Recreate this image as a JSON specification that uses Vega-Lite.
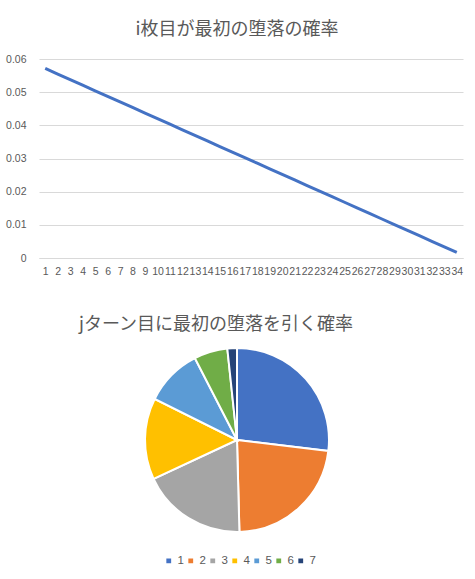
{
  "$schema": "https://vega.github.io/schema/vega-lite/v6.json",
  "background": "white",
  "padding": {"left": 5, "top": 21, "right": 13, "bottom": 12},
  "config": {
    "view": {"stroke": null},
    "font": "Noto Sans CJK JP",
    "title": {"fontSize": 18, "fontWeight": "normal", "color": "#595959", "font": "Noto Sans CJK JP"},
    "axis": {"labelColor": "#595959", "labelFont": "Liberation Sans", "labelFontSize": 10.5, "ticks": false, "title": null}
  },
  "datasets": {
    "line": [
      {"i": 1, "p": 0.05714}, {"i": 2, "p": 0.05546}, {"i": 3, "p": 0.05378}, {"i": 4, "p": 0.05210},
      {"i": 5, "p": 0.05042}, {"i": 6, "p": 0.04874}, {"i": 7, "p": 0.04706}, {"i": 8, "p": 0.04538},
      {"i": 9, "p": 0.04370}, {"i": 10, "p": 0.04202}, {"i": 11, "p": 0.04034}, {"i": 12, "p": 0.03866},
      {"i": 13, "p": 0.03697}, {"i": 14, "p": 0.03529}, {"i": 15, "p": 0.03361}, {"i": 16, "p": 0.03193},
      {"i": 17, "p": 0.03025}, {"i": 18, "p": 0.02857}, {"i": 19, "p": 0.02689}, {"i": 20, "p": 0.02521},
      {"i": 21, "p": 0.02353}, {"i": 22, "p": 0.02185}, {"i": 23, "p": 0.02017}, {"i": 24, "p": 0.01849},
      {"i": 25, "p": 0.01681}, {"i": 26, "p": 0.01513}, {"i": 27, "p": 0.01345}, {"i": 28, "p": 0.01176},
      {"i": 29, "p": 0.01008}, {"i": 30, "p": 0.00840}, {"i": 31, "p": 0.00672}, {"i": 32, "p": 0.00504},
      {"i": 33, "p": 0.00336}, {"i": 34, "p": 0.00168}
    ],
    "pie": [
      {"j": 1, "p": 0.2689}, {"j": 2, "p": 0.2269}, {"j": 3, "p": 0.1849}, {"j": 4, "p": 0.1429},
      {"j": 5, "p": 0.1008}, {"j": 6, "p": 0.0588}, {"j": 7, "p": 0.0168}
    ]
  },
  "bounds": "flush",
  "spacing": 90,
  "vconcat": [
    {
      "title": {"text": "i枚目が最初の堕落の確率", "dx": -14, "offset": 15},
      "width": 424,
      "height": 199,
      "data": {"name": "line"},
      "mark": {"type": "line", "color": "#4472C4", "strokeWidth": 3},
      "encoding": {
        "x": {
          "field": "i", "type": "ordinal",
          "scale": {"type": "point", "padding": 0.5},
          "axis": {"labelAngle": 0, "labelOverlap": false, "domainColor": "#d9d9d9", "labelPadding": 8}
        },
        "y": {
          "field": "p", "type": "quantitative",
          "scale": {"domain": [0, 0.06]},
          "axis": {"values": [0, 0.01, 0.02, 0.03, 0.04, 0.05, 0.06], "format": "~g", "domain": false, "gridColor": "#d9d9d9", "labelPadding": 13}
        }
      }
    },
    {
      "title": {"text": "jターン目に最初の堕落を引く確率", "dx": -21, "offset": 10},
      "width": 396,
      "height": 184,
      "data": {"name": "pie"},
      "mark": {"type": "arc", "outerRadius": 92, "stroke": "white", "strokeWidth": 2},
      "encoding": {
        "theta": {"field": "p", "type": "quantitative", "stack": true},
        "order": {"field": "j", "type": "quantitative", "sort": "ascending"},
        "color": {
          "field": "j", "type": "nominal",
          "scale": {"range": ["#4472C4", "#ED7D31", "#A5A5A5", "#FFC000", "#5B9BD5", "#70AD47", "#264478"]},
          "legend": {"title": null, "orient": "none", "legendX": 124, "legendY": 496, "direction": "horizontal", "symbolType": "square", "symbolSize": 40, "labelOffset": 3, "labelFontSize": 11.5, "labelColor": "#595959", "labelFont": "Liberation Sans", "columnPadding": 0}
        }
      }
    }
  ]
}
